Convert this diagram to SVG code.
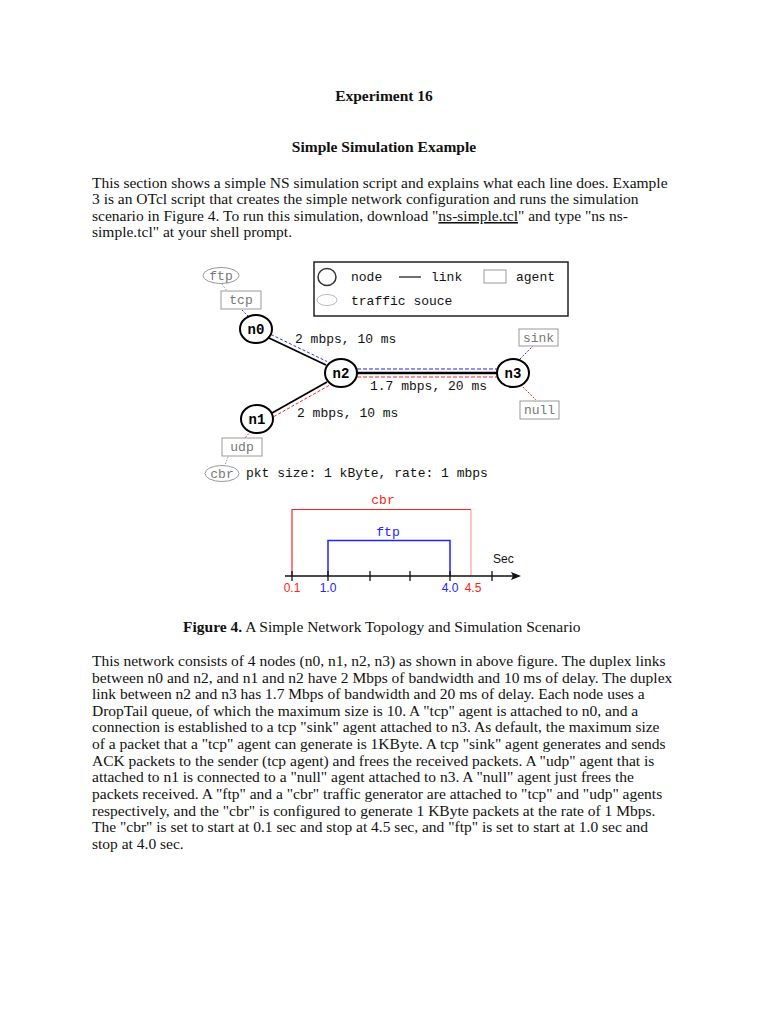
<svg xmlns="http://www.w3.org/2000/svg" width="768" height="1024" viewBox="0 0 768 1024">
<style>
.body{font-family:"Liberation Serif","Times New Roman",serif;font-size:15.5px;fill:#111}
.title{font-family:"Liberation Serif","Times New Roman",serif;font-size:15.5px;font-weight:bold;fill:#111}
.mono{font-family:"Liberation Mono","Courier New",monospace;font-size:13px;fill:#111}
.agent{font-family:"Liberation Mono","Courier New",monospace;font-size:13px;fill:#777}
.nlabel{font-family:"Liberation Mono","Courier New",monospace;font-size:14px;font-weight:bold;fill:#000}
.node{fill:#fff;stroke:#000;stroke-width:2}
.abox{fill:#fff;stroke:#999;stroke-width:1}
.src{fill:#fff;stroke:#999;stroke-width:1}
.sans{font-family:"Liberation Sans",Arial,sans-serif;font-size:12px}
</style>
<rect width="768" height="1024" fill="#fff"/>

<g id="header">
<text class="title" x="384" y="101" text-anchor="middle">Experiment 16</text>
<text class="title" x="384" y="152" text-anchor="middle">Simple Simulation Example</text>
<text class="body" x="92" y="188">This section shows a simple NS simulation script and explains what each line does. Example</text>
<text class="body" x="92" y="204">3 is an OTcl script that creates the simple network configuration and runs the simulation</text>
<text class="body" x="92" y="221">scenario in Figure 4. To run this simulation, download "<tspan text-decoration="underline">ns-simple.tcl</tspan>" and type "ns ns-</text>
<text class="body" x="92" y="237">simple.tcl" at your shell prompt.</text>
</g>

<g id="legend">
<rect x="314" y="262" width="254" height="54" fill="#fff" stroke="#222" stroke-width="1.5"/>
<ellipse cx="327" cy="277" rx="9" ry="8.5" fill="#fff" stroke="#333" stroke-width="1.5"/>
<text class="mono" x="351" y="281">node</text>
<line x1="399" y1="277" x2="421" y2="277" stroke="#111" stroke-width="1.2"/>
<text class="mono" x="431" y="281">link</text>
<rect x="484" y="270" width="22" height="13" fill="#fff" stroke="#999"/>
<text class="mono" x="516" y="281">agent</text>
<ellipse cx="327" cy="300" rx="10" ry="5.5" fill="#fff" stroke="#bbb"/>
<text class="mono" x="351" y="305">traffic souce</text>
</g>

<g id="connectors" fill="none">
<line x1="269" y1="338" x2="326" y2="365" stroke="#000" stroke-width="1.8"/>
<line x1="271" y1="334.5" x2="327" y2="361.5" stroke="#33f" stroke-width="1" stroke-dasharray="3,2"/>
<line x1="272" y1="413" x2="327" y2="382" stroke="#000" stroke-width="1.8"/>
<line x1="274" y1="416.5" x2="329" y2="385.5" stroke="#f22" stroke-width="1" stroke-dasharray="3,2"/>
<line x1="357" y1="373" x2="497" y2="373" stroke="#000" stroke-width="2.5"/>
<line x1="357" y1="369" x2="497" y2="369" stroke="#22f" stroke-width="1.2" stroke-dasharray="4,2"/>
<line x1="357" y1="377" x2="497" y2="377" stroke="#f22" stroke-width="1.2" stroke-dasharray="4,2"/>
<line x1="242" y1="310" x2="249" y2="317" stroke="#33f" stroke-width="1" stroke-dasharray="2,1.5"/>
<line x1="251" y1="431" x2="245" y2="438" stroke="#f22" stroke-width="1" stroke-dasharray="2,1.5"/>
<line x1="222" y1="284" x2="227" y2="291" stroke="#999" stroke-width="1" stroke-dasharray="1.5,1.5"/>
<line x1="228" y1="457" x2="225" y2="465" stroke="#999" stroke-width="1" stroke-dasharray="1.5,1.5"/>
<line x1="520" y1="359" x2="533" y2="346" stroke="#33f" stroke-width="1" stroke-dasharray="2,1.5"/>
<line x1="523" y1="387" x2="536" y2="400" stroke="#f22" stroke-width="1" stroke-dasharray="2,1.5"/>
</g>

<g id="n0"><ellipse class="node" cx="256" cy="329" rx="16" ry="14"/><text class="nlabel" x="256" y="334" text-anchor="middle">n0</text></g>
<g id="n1"><ellipse class="node" cx="257" cy="419" rx="16" ry="14"/><text class="nlabel" x="257" y="424" text-anchor="middle">n1</text></g>
<g id="n2"><ellipse class="node" cx="341" cy="373" rx="16" ry="14"/><text class="nlabel" x="341" y="378" text-anchor="middle">n2</text></g>
<g id="n3"><ellipse class="node" cx="513" cy="373" rx="16" ry="14"/><text class="nlabel" x="513" y="378" text-anchor="middle">n3</text></g>

<g id="ftp"><ellipse class="src" cx="221" cy="275.5" rx="18" ry="8"/><text class="agent" x="221" y="280" text-anchor="middle">ftp</text></g>
<g id="tcp"><rect class="abox" x="221" y="291" width="40" height="18"/><text class="agent" x="241" y="304" text-anchor="middle">tcp</text></g>
<g id="udp"><rect class="abox" x="222" y="438" width="40" height="18"/><text class="agent" x="242" y="451" text-anchor="middle">udp</text></g>
<g id="cbr"><ellipse class="src" cx="222" cy="473.5" rx="17" ry="8"/><text class="agent" x="222" y="478" text-anchor="middle">cbr</text></g>
<g id="sink"><rect class="abox" x="519" y="329" width="39" height="17"/><text class="agent" x="538.5" y="342" text-anchor="middle">sink</text></g>
<g id="null"><rect class="abox" x="520" y="401" width="39" height="18"/><text class="agent" x="539.5" y="414" text-anchor="middle">null</text></g>

<g id="link-labels">
<text class="mono" x="295" y="343">2 mbps, 10 ms</text>
<text class="mono" x="370" y="390">1.7 mbps, 20 ms</text>
<text class="mono" x="297" y="417">2 mbps, 10 ms</text>
<text class="mono" x="246" y="477">pkt size: 1 kByte, rate: 1 mbps</text>
</g>

<g id="timeline">
<polyline points="292,576 292,509.5 471,509.5" fill="none" stroke="#f22" stroke-width="1.2"/>
<line x1="471" y1="509.5" x2="471" y2="576" stroke="#f9a0a0" stroke-width="1.2"/>
<polyline points="328,576 328,540.5 450,540.5 450,576" fill="none" stroke="#22f" stroke-width="1.5"/>
<line x1="285" y1="576" x2="514" y2="576" stroke="#111" stroke-width="1.5"/>
<polygon points="521,576 511,572 513,576 511,580" fill="#111"/>
<g stroke="#111" stroke-width="1.3">
<line x1="292" y1="571" x2="292" y2="581"/>
<line x1="328" y1="571" x2="328" y2="581"/>
<line x1="370" y1="571" x2="370" y2="581"/>
<line x1="410" y1="571" x2="410" y2="581"/>
<line x1="450" y1="571" x2="450" y2="581"/>
<line x1="492" y1="571" x2="492" y2="581"/>
</g>
<text class="mono" x="383" y="504" text-anchor="middle" style="fill:#f22">cbr</text>
<text class="mono" x="388" y="536" text-anchor="middle" style="fill:#22f">ftp</text>
<text class="sans" x="493" y="563" fill="#111">Sec</text>
<text class="sans" x="292" y="592" text-anchor="middle" fill="#f22">0.1</text>
<text class="sans" x="328" y="592" text-anchor="middle" fill="#22f">1.0</text>
<text class="sans" x="450" y="592" text-anchor="middle" fill="#22f">4.0</text>
<text class="sans" x="473" y="592" text-anchor="middle" fill="#f22">4.5</text>
</g>

<g id="caption">
<text class="body" x="183" y="632"><tspan font-weight="bold">Figure 4.</tspan> A Simple Network Topology and Simulation Scenario</text>
</g>

<g id="paragraph">
<text class="body" x="92" y="666">This network consists of 4 nodes (n0, n1, n2, n3) as shown in above figure. The duplex links</text>
<text class="body" x="92" y="683">between n0 and n2, and n1 and n2 have 2 Mbps of bandwidth and 10 ms of delay. The duplex</text>
<text class="body" x="92" y="699">link between n2 and n3 has 1.7 Mbps of bandwidth and 20 ms of delay. Each node uses a</text>
<text class="body" x="92" y="716">DropTail queue, of which the maximum size is 10. A "tcp" agent is attached to n0, and a</text>
<text class="body" x="92" y="732">connection is established to a tcp "sink" agent attached to n3. As default, the maximum size</text>
<text class="body" x="92" y="749">of a packet that a "tcp" agent can generate is 1KByte. A tcp "sink" agent generates and sends</text>
<text class="body" x="92" y="766">ACK packets to the sender (tcp agent) and frees the received packets. A "udp" agent that is</text>
<text class="body" x="92" y="782">attached to n1 is connected to a "null" agent attached to n3. A "null" agent just frees the</text>
<text class="body" x="92" y="799">packets received. A "ftp" and a "cbr" traffic generator are attached to "tcp" and "udp" agents</text>
<text class="body" x="92" y="816">respectively, and the "cbr" is configured to generate 1 KByte packets at the rate of 1 Mbps.</text>
<text class="body" x="92" y="832">The "cbr" is set to start at 0.1 sec and stop at 4.5 sec, and "ftp" is set to start at 1.0 sec and</text>
<text class="body" x="92" y="849">stop at 4.0 sec.</text>
</g>
</svg>
